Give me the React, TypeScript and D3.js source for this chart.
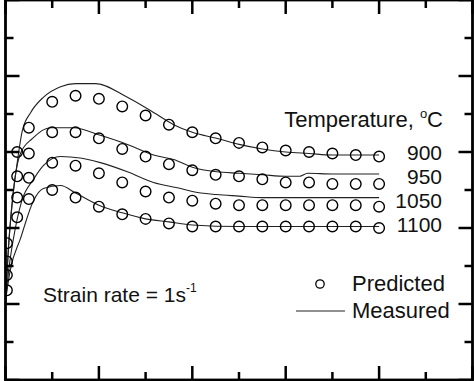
import React from "react";
import * as d3 from "d3";

const W = 474;
const H = 381;

const predStrain = [0.003, 0.025, 0.05, 0.1, 0.15, 0.2, 0.25, 0.3, 0.35, 0.4, 0.45, 0.5, 0.55, 0.6, 0.65, 0.7, 0.75, 0.8];
const pred900 = [90, 150, 166, 183, 187, 185, 180, 174, 168, 163, 159, 156, 153, 151, 150, 149, 148, 147];
const pred950 = [78, 134, 149, 163, 163, 159, 152, 147, 142, 138, 135, 134, 132, 130, 130, 129, 129, 129];
const pred1050 = [69, 120, 133, 143, 141, 136, 130, 124, 120, 118, 116, 115, 115, 115, 115, 115, 115, 114];
const pred1100 = [59, 107, 119, 125, 120, 114, 109, 106, 103, 101, 101, 101, 101, 101, 101, 101, 101, 100];

const meas900Strain = [0, 0.006, 0.015, 0.026, 0.036, 0.054, 0.081, 0.118, 0.15, 0.193, 0.261, 0.317, 0.36, 0.4, 0.452, 0.5, 0.55, 0.6, 0.65, 0.7, 0.75, 0.8];
const meas900 = [52, 85, 118, 145, 164, 176, 186, 193, 195, 195, 186, 176, 168, 163, 159, 155, 152, 150, 149, 148, 148, 148];
const meas950Strain = [0, 0.008, 0.017, 0.032, 0.058, 0.096, 0.146, 0.203, 0.261, 0.317, 0.36, 0.4, 0.452, 0.5, 0.55, 0.6, 0.63, 0.647, 0.7, 0.75, 0.8];
const meas950 = [52, 95, 125, 149, 159, 166, 166, 161, 155, 148, 145, 140, 137, 136, 135, 134, 134, 136, 135.5, 135.5, 135.5];
const meas1050Strain = [0, 0.008, 0.017, 0.035, 0.06, 0.081, 0.118, 0.16, 0.203, 0.261, 0.317, 0.375, 0.4, 0.452, 0.5, 0.55, 0.6, 0.7, 0.8];
const meas1050 = [52, 75, 93, 118, 132, 141, 147, 146, 143, 137, 130, 126, 124, 122, 121, 120, 120, 120, 120];
const meas1100Strain = [0, 0.01, 0.032, 0.06, 0.081, 0.118, 0.15, 0.2, 0.25, 0.3, 0.35, 0.4, 0.5, 0.6, 0.7, 0.8];
const meas1100 = [52, 72, 93, 118, 126, 128, 123, 115, 110, 106, 104, 102, 101, 101, 101, 101];

const tempLabels = ["900", "950", "1050", "1100"];
const labelStress = [150, 134, 118, 102];

const xTicks = [0, 0.1, 0.2, 0.3, 0.4, 0.5, 0.6, 0.7, 0.8, 0.9, 1.0];
const yTicks = [0, 25, 50, 75, 100, 125, 150, 175, 200, 225, 250];

export default function App() {
  const x = d3.scaleLinear().domain([0, 1]).range([5.5, 472.5]);
  const y = d3.scaleLinear().domain([0, 250]).range([380, 0]);
  const line = d3
    .line<[number, number]>()
    .x((d) => x(d[0]))
    .y((d) => y(d[1]))
    .curve(d3.curveMonotoneX);

  const measured = [
    [meas900Strain, meas900],
    [meas950Strain, meas950],
    [meas1050Strain, meas1050],
    [meas1100Strain, meas1100],
  ];
  const predicted = [pred900, pred950, pred1050, pred1100];
  const font = "'Liberation Sans', Arial, sans-serif";
  const isMajorX = (v: number) => Math.abs((v * 10) % 2) < 1e-6 || Math.abs((v * 10) % 2 - 2) < 1e-6;

  return (
    <svg width={W} height={H} style={{ position: "absolute", left: 0, top: 0, background: "#fff" }} fontFamily={font}>
      <defs>
        <clipPath id="plot">
          <rect x={x(0)} y={y(250)} width={x(1) - x(0)} height={y(0) - y(250)} />
        </clipPath>
      </defs>
      <g clipPath="url(#plot)">
        {measured.map(([s, v], i) => (
          <path
            key={"m" + i}
            d={line((s as number[]).map((d, j) => [d, (v as number[])[j]]) as [number, number][]) || ""}
            fill="none"
            stroke="#222"
            strokeWidth={1.1}
          />
        ))}
        {predicted.map((vals, i) =>
          vals.map((v, j) => (
            <circle key={"p" + i + "-" + j} cx={x(predStrain[j])} cy={y(v)} r={5.3} fill="none" stroke="#000" strokeWidth={1.4} />
          ))
        )}
      </g>
      {/* ticks */}
      {xTicks.map((t, i) => {
        const len = isMajorX(t) ? 14 : 8;
        return (
          <g key={"xt" + i}>
            <line x1={x(t)} x2={x(t)} y1={y(0)} y2={y(0) - len} stroke="#000" strokeWidth={2.5} />
            <line x1={x(t)} x2={x(t)} y1={y(250)} y2={y(250) + len} stroke="#000" strokeWidth={2.5} />
          </g>
        );
      })}
      {yTicks.map((t, i) => {
        const len = t % 50 === 0 ? 14 : 8;
        return (
          <g key={"yt" + i}>
            <line x1={x(0)} x2={x(0) + len} y1={y(t)} y2={y(t)} stroke="#000" strokeWidth={2.5} />
            <line x1={x(1)} x2={x(1) - len} y1={y(t)} y2={y(t)} stroke="#000" strokeWidth={2.5} />
          </g>
        );
      })}
      <rect x={x(0)} y={y(250)} width={x(1) - x(0)} height={y(0) - y(250)} fill="none" stroke="#000" strokeWidth={2.8} />

      {/* temperature labels */}
      <text x={443} y={127} fontSize={22} textAnchor="end" fill="#111">
        Temperature, <tspan fontSize={13} dy={-9}>o</tspan>
        <tspan dy={9}>C</tspan>
      </text>
      {tempLabels.map((t, i) => (
        <text key={"tl" + i} x={442} y={y(labelStress[i]) + 7.5} fontSize={21} textAnchor="end" fill="#111">
          {t}
        </text>
      ))}

      {/* strain rate */}
      <text x={43} y={302} fontSize={21} fill="#111">
        Strain rate = 1s<tspan fontSize={12} dy={-10}>-1</tspan>
      </text>

      {/* legend */}
      <circle cx={320} cy={284} r={4.2} fill="none" stroke="#000" strokeWidth={1.3} />
      <text x={352} y={291} fontSize={22} fill="#111">Predicted</text>
      <line x1={296} x2={345} y1={311} y2={311} stroke="#222" strokeWidth={1.1} />
      <text x={352} y={318} fontSize={22} fill="#111">Measured</text>
    </svg>
  );
}
